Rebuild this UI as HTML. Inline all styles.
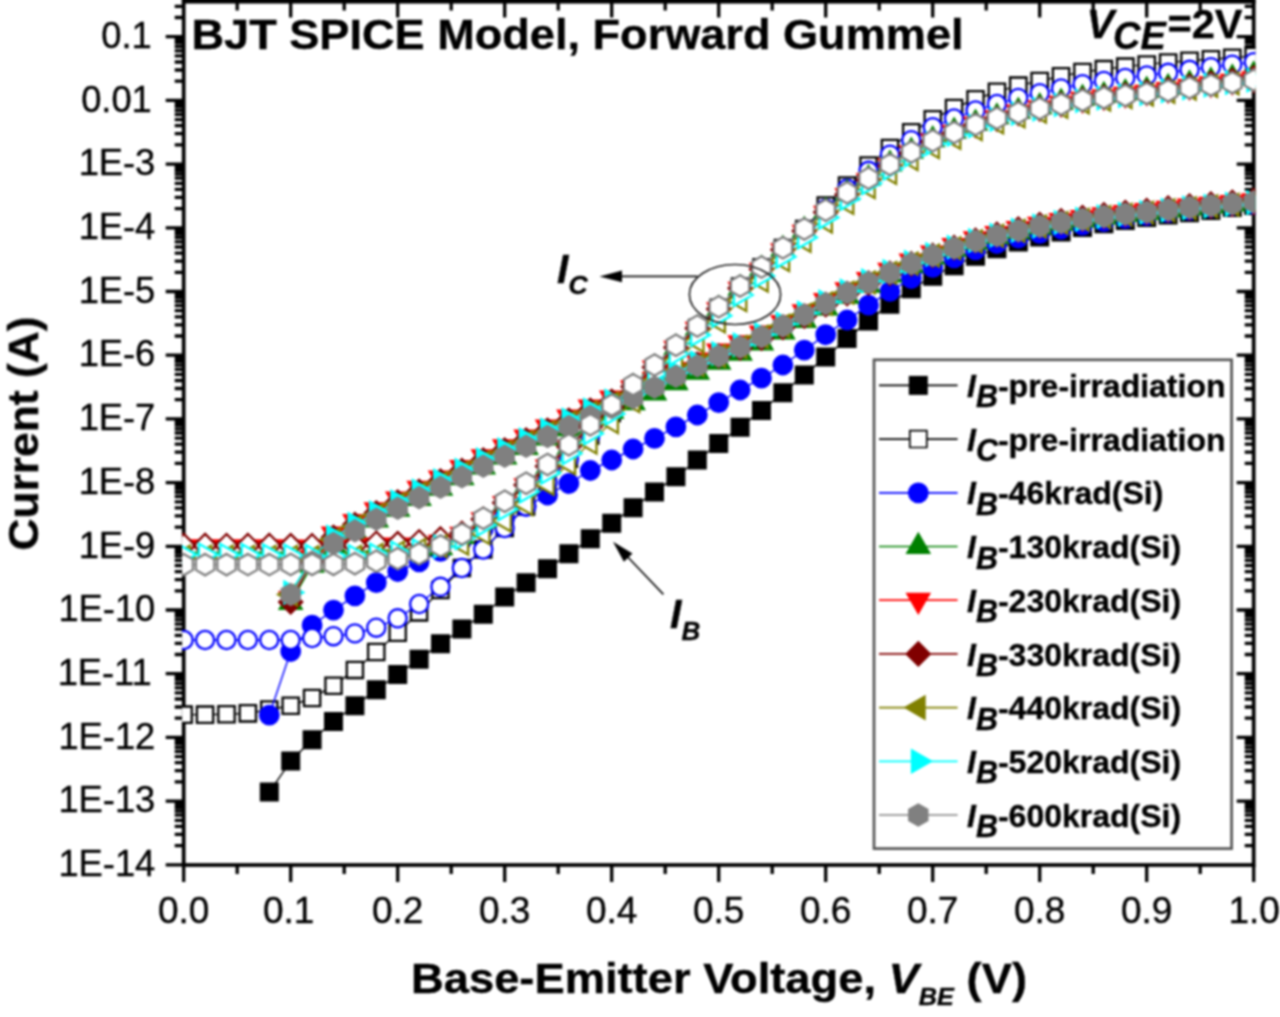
<!DOCTYPE html>
<html lang="en"><head><meta charset="utf-8"><title>BJT SPICE Model, Forward Gummel</title>
<style>html,body{margin:0;padding:0;background:#fff}body{width:1280px;height:1017px;overflow:hidden}svg{display:block}svg text{stroke:#000;stroke-width:.35px}</style>
</head><body>
<svg width="1280" height="1017" viewBox="0 0 1280 1017" font-family="'Liberation Sans', Arial, sans-serif">
<defs><filter id="b" x="-10" y="-10" width="1300" height="1037" filterUnits="userSpaceOnUse" color-interpolation-filters="sRGB"><feGaussianBlur stdDeviation="0.8"/></filter><clipPath id="c"><rect x="182.1" y="0" width="1073.4" height="866.5"/></clipPath></defs>
<rect width="1280" height="1017" fill="#fff"/>
<g filter="url(#b)">
<rect x="183.7" y="1.5" width="1070" height="863.5" fill="none" stroke="#000" stroke-width="3.7"/>
<rect x="181.8" y="-8" width="1073.7" height="11.3" fill="#000"/>
<path d="M183.7 865v17M237.2 865v9M237.2 1.5v9M290.7 865v17M290.7 1.5v16M344.2 865v9M344.2 1.5v9M397.7 865v17M397.7 1.5v16M451.2 865v9M451.2 1.5v9M504.7 865v17M504.7 1.5v16M558.2 865v9M558.2 1.5v9M611.7 865v17M611.7 1.5v16M665.2 865v9M665.2 1.5v9M718.7 865v17M718.7 1.5v16M772.2 865v9M772.2 1.5v9M825.7 865v17M825.7 1.5v16M879.2 865v9M879.2 1.5v9M932.7 865v17M932.7 1.5v16M986.2 865v9M986.2 1.5v9M1039.7 865v17M1039.7 1.5v16M1093.2 865v9M1093.2 1.5v9M1146.7 865v17M1146.7 1.5v16M1200.2 865v9M1200.2 1.5v9M1253.7 865v17M183.7 864.8h-18M183.7 845.6h-9M1253.7 845.6h-9M183.7 834.4h-9M1253.7 834.4h-9M183.7 826.4h-9M1253.7 826.4h-9M183.7 820.3h-9M1253.7 820.3h-9M183.7 815.2h-9M1253.7 815.2h-9M183.7 811h-9M1253.7 811h-9M183.7 807.3h-9M1253.7 807.3h-9M183.7 804h-9M1253.7 804h-9M183.7 801.1h-18M1253.7 801.1h-17M183.7 781.9h-9M1253.7 781.9h-9M183.7 770.7h-9M1253.7 770.7h-9M183.7 762.7h-9M1253.7 762.7h-9M183.7 756.6h-9M1253.7 756.6h-9M183.7 751.5h-9M1253.7 751.5h-9M183.7 747.3h-9M1253.7 747.3h-9M183.7 743.6h-9M1253.7 743.6h-9M183.7 740.3h-9M1253.7 740.3h-9M183.7 737.4h-18M1253.7 737.4h-17M183.7 718.2h-9M1253.7 718.2h-9M183.7 707h-9M1253.7 707h-9M183.7 699h-9M1253.7 699h-9M183.7 692.9h-9M1253.7 692.9h-9M183.7 687.8h-9M1253.7 687.8h-9M183.7 683.6h-9M1253.7 683.6h-9M183.7 679.9h-9M1253.7 679.9h-9M183.7 676.6h-9M1253.7 676.6h-9M183.7 673.7h-18M1253.7 673.7h-17M183.7 654.5h-9M1253.7 654.5h-9M183.7 643.3h-9M1253.7 643.3h-9M183.7 635.3h-9M1253.7 635.3h-9M183.7 629.2h-9M1253.7 629.2h-9M183.7 624.1h-9M1253.7 624.1h-9M183.7 619.9h-9M1253.7 619.9h-9M183.7 616.2h-9M1253.7 616.2h-9M183.7 612.9h-9M1253.7 612.9h-9M183.7 610h-18M1253.7 610h-17M183.7 590.8h-9M1253.7 590.8h-9M183.7 579.6h-9M1253.7 579.6h-9M183.7 571.6h-9M1253.7 571.6h-9M183.7 565.5h-9M1253.7 565.5h-9M183.7 560.4h-9M1253.7 560.4h-9M183.7 556.2h-9M1253.7 556.2h-9M183.7 552.5h-9M1253.7 552.5h-9M183.7 549.2h-9M1253.7 549.2h-9M183.7 546.3h-18M1253.7 546.3h-17M183.7 527.1h-9M1253.7 527.1h-9M183.7 515.9h-9M1253.7 515.9h-9M183.7 507.9h-9M1253.7 507.9h-9M183.7 501.8h-9M1253.7 501.8h-9M183.7 496.7h-9M1253.7 496.7h-9M183.7 492.5h-9M1253.7 492.5h-9M183.7 488.8h-9M1253.7 488.8h-9M183.7 485.5h-9M1253.7 485.5h-9M183.7 482.6h-18M1253.7 482.6h-17M183.7 463.4h-9M1253.7 463.4h-9M183.7 452.2h-9M1253.7 452.2h-9M183.7 444.2h-9M1253.7 444.2h-9M183.7 438.1h-9M1253.7 438.1h-9M183.7 433h-9M1253.7 433h-9M183.7 428.8h-9M1253.7 428.8h-9M183.7 425.1h-9M1253.7 425.1h-9M183.7 421.8h-9M1253.7 421.8h-9M183.7 418.9h-18M1253.7 418.9h-17M183.7 399.7h-9M1253.7 399.7h-9M183.7 388.5h-9M1253.7 388.5h-9M183.7 380.5h-9M1253.7 380.5h-9M183.7 374.4h-9M1253.7 374.4h-9M183.7 369.3h-9M1253.7 369.3h-9M183.7 365.1h-9M1253.7 365.1h-9M183.7 361.4h-9M1253.7 361.4h-9M183.7 358.1h-9M1253.7 358.1h-9M183.7 355.2h-18M1253.7 355.2h-17M183.7 336h-9M1253.7 336h-9M183.7 324.8h-9M1253.7 324.8h-9M183.7 316.8h-9M1253.7 316.8h-9M183.7 310.7h-9M1253.7 310.7h-9M183.7 305.6h-9M1253.7 305.6h-9M183.7 301.4h-9M1253.7 301.4h-9M183.7 297.7h-9M1253.7 297.7h-9M183.7 294.4h-9M1253.7 294.4h-9M183.7 291.5h-18M1253.7 291.5h-17M183.7 272.3h-9M1253.7 272.3h-9M183.7 261.1h-9M1253.7 261.1h-9M183.7 253.1h-9M1253.7 253.1h-9M183.7 247h-9M1253.7 247h-9M183.7 241.9h-9M1253.7 241.9h-9M183.7 237.7h-9M1253.7 237.7h-9M183.7 234h-9M1253.7 234h-9M183.7 230.7h-9M1253.7 230.7h-9M183.7 227.8h-18M1253.7 227.8h-17M183.7 208.6h-9M1253.7 208.6h-9M183.7 197.4h-9M1253.7 197.4h-9M183.7 189.4h-9M1253.7 189.4h-9M183.7 183.3h-9M1253.7 183.3h-9M183.7 178.2h-9M1253.7 178.2h-9M183.7 174h-9M1253.7 174h-9M183.7 170.3h-9M1253.7 170.3h-9M183.7 167h-9M1253.7 167h-9M183.7 164.1h-18M1253.7 164.1h-17M183.7 144.9h-9M1253.7 144.9h-9M183.7 133.7h-9M1253.7 133.7h-9M183.7 125.7h-9M1253.7 125.7h-9M183.7 119.6h-9M1253.7 119.6h-9M183.7 114.5h-9M1253.7 114.5h-9M183.7 110.3h-9M1253.7 110.3h-9M183.7 106.6h-9M1253.7 106.6h-9M183.7 103.3h-9M1253.7 103.3h-9M183.7 100.4h-18M1253.7 100.4h-17M183.7 81.2h-9M1253.7 81.2h-9M183.7 70h-9M1253.7 70h-9M183.7 62h-9M1253.7 62h-9M183.7 55.9h-9M1253.7 55.9h-9M183.7 50.8h-9M1253.7 50.8h-9M183.7 46.6h-9M1253.7 46.6h-9M183.7 42.9h-9M1253.7 42.9h-9M183.7 39.6h-9M1253.7 39.6h-9M183.7 36.7h-18M1253.7 36.7h-17M183.7 17.5h-9M1253.7 17.5h-9M183.7 6.3h-9M1253.7 6.3h-9" stroke="#000" stroke-width="3.3" fill="none"/>
<g font-size="37" fill="#000" text-anchor="middle">
<text x="183.7" y="923">0.0</text>
<text x="288.7" y="923">0.1</text>
<text x="397.7" y="923">0.2</text>
<text x="504.7" y="923">0.3</text>
<text x="611.7" y="923">0.4</text>
<text x="718.7" y="923">0.5</text>
<text x="825.7" y="923">0.6</text>
<text x="932.7" y="923">0.7</text>
<text x="1039.7" y="923">0.8</text>
<text x="1146.7" y="923">0.9</text>
<text x="1254.2" y="923">1.0</text>
</g>
<g font-size="36.3" fill="#000" text-anchor="end">
<text x="151.8" y="47.9">0.1</text>
<text x="151.8" y="111.6">0.01</text>
<text x="155.3" y="175.3">1E-3</text>
<text x="155.3" y="239">1E-4</text>
<text x="155.3" y="302.7">1E-5</text>
<text x="155.3" y="366.4">1E-6</text>
<text x="155.3" y="430.1">1E-7</text>
<text x="155.3" y="493.8">1E-8</text>
<text x="155.3" y="557.5">1E-9</text>
<text x="155.3" y="621.2">1E-10</text>
<text x="151.8" y="684.9">1E-11</text>
<text x="155.3" y="748.6">1E-12</text>
<text x="155.3" y="812.3">1E-13</text>
<text x="155.3" y="876">1E-14</text>
</g>
<g clip-path="url(#c)" stroke-linejoin="miter">
<path d="M269.3 792.1L290.7 761.1L312.1 739.7L333.5 721.5L354.9 705.7L376.3 689.8L397.7 674.5L419.1 659.2L440.5 643.8L461.9 629L483.3 614.2L504.7 597L526.1 582.8L547.5 568.8L568.9 553.8L590.3 538.8L611.7 523.3L633.1 507.7L654.5 492.1L675.9 476.7L697.3 460.1L718.7 443.5L740.1 427.2L761.5 410.6L782.9 392.8L804.3 374.9L825.7 357L847.1 338.6L868.5 320.9L889.9 304.2L911.3 288.8L932.7 276.3L954.1 265.7L975.5 256.3L996.9 248.8L1018.3 242L1039.7 237L1061.1 232L1082.5 227.5L1103.9 223.8L1125.3 220.5L1146.7 217.6L1168.1 215L1189.5 212.8L1210.9 210.5L1232.3 207.6L1253.7 205.5" fill="none" stroke="#000000" stroke-width="1.45"/>
<path d="M259.8 782.6L278.8 782.6L278.8 801.6L259.8 801.6zM281.2 751.6L300.2 751.6L300.2 770.6L281.2 770.6zM302.6 730.2L321.6 730.2L321.6 749.2L302.6 749.2zM324 712L343 712L343 731L324 731zM345.4 696.2L364.4 696.2L364.4 715.2L345.4 715.2zM366.8 680.3L385.8 680.3L385.8 699.3L366.8 699.3zM388.2 665L407.2 665L407.2 684L388.2 684zM409.6 649.7L428.6 649.7L428.6 668.7L409.6 668.7zM431 634.3L450 634.3L450 653.3L431 653.3zM452.4 619.5L471.4 619.5L471.4 638.5L452.4 638.5zM473.8 604.7L492.8 604.7L492.8 623.7L473.8 623.7zM495.2 587.5L514.2 587.5L514.2 606.5L495.2 606.5zM516.6 573.3L535.6 573.3L535.6 592.3L516.6 592.3zM538 559.3L557 559.3L557 578.3L538 578.3zM559.4 544.3L578.4 544.3L578.4 563.3L559.4 563.3zM580.8 529.3L599.8 529.3L599.8 548.3L580.8 548.3zM602.2 513.8L621.2 513.8L621.2 532.8L602.2 532.8zM623.6 498.2L642.6 498.2L642.6 517.2L623.6 517.2zM645 482.6L664 482.6L664 501.6L645 501.6zM666.4 467.2L685.4 467.2L685.4 486.2L666.4 486.2zM687.8 450.6L706.8 450.6L706.8 469.6L687.8 469.6zM709.2 434L728.2 434L728.2 453L709.2 453zM730.6 417.7L749.6 417.7L749.6 436.7L730.6 436.7zM752 401.1L771 401.1L771 420.1L752 420.1zM773.4 383.3L792.4 383.3L792.4 402.3L773.4 402.3zM794.8 365.4L813.8 365.4L813.8 384.4L794.8 384.4zM816.2 347.5L835.2 347.5L835.2 366.5L816.2 366.5zM837.6 329.1L856.6 329.1L856.6 348.1L837.6 348.1zM859 311.4L878 311.4L878 330.4L859 330.4zM880.4 294.7L899.4 294.7L899.4 313.7L880.4 313.7zM901.8 279.3L920.8 279.3L920.8 298.3L901.8 298.3zM923.2 266.8L942.2 266.8L942.2 285.8L923.2 285.8zM944.6 256.2L963.6 256.2L963.6 275.2L944.6 275.2zM966 246.8L985 246.8L985 265.8L966 265.8zM987.4 239.3L1006.4 239.3L1006.4 258.3L987.4 258.3zM1008.8 232.5L1027.8 232.5L1027.8 251.5L1008.8 251.5zM1030.2 227.5L1049.2 227.5L1049.2 246.5L1030.2 246.5zM1051.6 222.5L1070.6 222.5L1070.6 241.5L1051.6 241.5zM1073 218L1092 218L1092 237L1073 237zM1094.4 214.3L1113.4 214.3L1113.4 233.3L1094.4 233.3zM1115.8 211L1134.8 211L1134.8 230L1115.8 230zM1137.2 208.1L1156.2 208.1L1156.2 227.1L1137.2 227.1zM1158.6 205.5L1177.6 205.5L1177.6 224.5L1158.6 224.5zM1180 203.3L1199 203.3L1199 222.3L1180 222.3zM1201.4 201L1220.4 201L1220.4 220L1201.4 220zM1222.8 198.1L1241.8 198.1L1241.8 217.1L1222.8 217.1zM1244.2 196L1263.2 196L1263.2 215L1244.2 215z" fill="#000000"/>
<path d="M183.7 714.6L205.1 714.6L226.5 714.3L247.9 713.4L269.3 709.5L290.7 705.7L312.1 698L333.5 685.7L354.9 669.9L376.3 652L397.7 632.8L419.1 612.4L440.5 590L461.9 567.9L483.3 549.5L504.7 528L526.1 506.4L547.5 482.5L568.9 458.8L590.3 435.5L611.7 413L633.1 390.6L654.5 369.3L675.9 348.2L697.3 327.9L718.7 307.7L740.1 286.5L761.5 267.3L782.9 247.9L804.3 229L825.7 205.5L847.1 185.5L868.5 165.5L889.9 148L911.3 132.4L932.7 119.3L954.1 108L975.5 99.3L996.9 91.8L1018.3 85.6L1039.7 81L1061.1 76.3L1082.5 72L1103.9 69.2L1125.3 66.6L1146.7 64.4L1168.1 62.4L1189.5 60.7L1210.9 59.3L1232.3 57.7L1253.7 56.1" fill="none" stroke="#000000" stroke-width="1.45"/>
<path d="M175.5 706.5L191.8 706.5L191.8 722.8L175.5 722.8zM196.9 706.5L213.2 706.5L213.2 722.8L196.9 722.8zM218.3 706.1L234.7 706.1L234.7 722.4L218.3 722.4zM239.7 705.2L256 705.2L256 721.5L239.7 721.5zM261.2 701.4L277.4 701.4L277.4 717.6L261.2 717.6zM282.6 697.6L298.8 697.6L298.8 713.9L282.6 713.9zM304 689.9L320.2 689.9L320.2 706.1L304 706.1zM325.4 677.6L341.6 677.6L341.6 693.9L325.4 693.9zM346.8 661.8L363 661.8L363 678L346.8 678zM368.1 643.9L384.4 643.9L384.4 660.1L368.1 660.1zM389.6 624.6L405.8 624.6L405.8 640.9L389.6 640.9zM411 604.2L427.2 604.2L427.2 620.5L411 620.5zM432.4 581.9L448.6 581.9L448.6 598.1L432.4 598.1zM453.8 559.8L470 559.8L470 576L453.8 576zM475.2 541.4L491.4 541.4L491.4 557.6L475.2 557.6zM496.6 519.9L512.9 519.9L512.9 536.1L496.6 536.1zM518 498.2L534.2 498.2L534.2 514.5L518 514.5zM539.4 474.4L555.6 474.4L555.6 490.7L539.4 490.7zM560.8 450.7L577 450.7L577 466.9L560.8 466.9zM582.1 427.3L598.4 427.3L598.4 443.6L582.1 443.6zM603.6 404.9L619.9 404.9L619.9 421.1L603.6 421.1zM624.9 382.4L641.2 382.4L641.2 398.7L624.9 398.7zM646.4 361.2L662.6 361.2L662.6 377.5L646.4 377.5zM667.8 340.1L684.1 340.1L684.1 356.3L667.8 356.3zM689.1 319.8L705.4 319.8L705.4 336.1L689.1 336.1zM710.6 299.6L726.9 299.6L726.9 315.9L710.6 315.9zM731.9 278.4L748.2 278.4L748.2 294.6L731.9 294.6zM753.4 259.2L769.6 259.2L769.6 275.5L753.4 275.5zM774.8 239.8L791.1 239.8L791.1 256.1L774.8 256.1zM796.1 220.8L812.4 220.8L812.4 237.2L796.1 237.2zM817.6 197.3L833.9 197.3L833.9 213.7L817.6 213.7zM838.9 177.3L855.2 177.3L855.2 193.7L838.9 193.7zM860.4 157.3L876.6 157.3L876.6 173.7L860.4 173.7zM881.8 139.8L898.1 139.8L898.1 156.2L881.8 156.2zM903.1 124.2L919.4 124.2L919.4 140.6L903.1 140.6zM924.6 111.2L940.9 111.2L940.9 127.5L924.6 127.5zM945.9 99.8L962.2 99.8L962.2 116.2L945.9 116.2zM967.4 91.1L983.6 91.1L983.6 107.5L967.4 107.5zM988.8 83.6L1005.1 83.6L1005.1 100L988.8 100zM1010.1 77.5L1026.5 77.5L1026.5 93.8L1010.1 93.8zM1031.5 72.8L1047.9 72.8L1047.9 89.2L1031.5 89.2zM1052.9 68.1L1069.2 68.1L1069.2 84.4L1052.9 84.4zM1074.3 63.9L1090.7 63.9L1090.7 80.2L1074.3 80.2zM1095.7 61L1112 61L1112 77.3L1095.7 77.3zM1117.1 58.5L1133.5 58.5L1133.5 74.8L1117.1 74.8zM1138.5 56.3L1154.9 56.3L1154.9 72.6L1138.5 72.6zM1160 54.3L1176.3 54.3L1176.3 70.6L1160 70.6zM1181.3 52.6L1197.7 52.6L1197.7 68.9L1181.3 68.9zM1202.8 51.1L1219.1 51.1L1219.1 67.5L1202.8 67.5zM1224.1 49.6L1240.5 49.6L1240.5 65.9L1224.1 65.9zM1245.5 47.9L1261.9 47.9L1261.9 64.2L1245.5 64.2z" fill="#fff" stroke="#000000" stroke-width="2.3"/>
<path d="M269.3 715.1L290.7 651.5L312.1 625.2L333.5 610.1L354.9 595.8L376.3 582.7L397.7 571.5L419.1 561.8L440.5 551.3L461.9 540.5L483.3 529.3L504.7 517.9L526.1 506.4L547.5 495L568.9 483.5L590.3 470.5L611.7 460L633.1 449L654.5 438.4L675.9 426.9L697.3 415L718.7 402.6L740.1 390L761.5 378.2L782.9 365L804.3 350.1L825.7 334.7L847.1 320L868.5 305.2L889.9 291.4L911.3 278.5L932.7 267.3L954.1 257.9L975.5 249.8L996.9 243.5L1018.3 238L1039.7 233.3L1061.1 229L1082.5 225.1L1103.9 221.5L1125.3 218.4L1146.7 215.5L1168.1 212.6L1189.5 210L1210.9 207.7L1232.3 205.7L1253.7 204" fill="none" stroke="#0000ff" stroke-width="1.45"/>
<path d="M258.9 715.1a10.4 10.4 0 1 0 20.8 0a10.4 10.4 0 1 0 -20.8 0zM280.3 651.5a10.4 10.4 0 1 0 20.8 0a10.4 10.4 0 1 0 -20.8 0zM301.7 625.2a10.4 10.4 0 1 0 20.8 0a10.4 10.4 0 1 0 -20.8 0zM323.1 610.1a10.4 10.4 0 1 0 20.8 0a10.4 10.4 0 1 0 -20.8 0zM344.5 595.8a10.4 10.4 0 1 0 20.8 0a10.4 10.4 0 1 0 -20.8 0zM365.9 582.7a10.4 10.4 0 1 0 20.8 0a10.4 10.4 0 1 0 -20.8 0zM387.3 571.5a10.4 10.4 0 1 0 20.8 0a10.4 10.4 0 1 0 -20.8 0zM408.7 561.8a10.4 10.4 0 1 0 20.8 0a10.4 10.4 0 1 0 -20.8 0zM430.1 551.3a10.4 10.4 0 1 0 20.8 0a10.4 10.4 0 1 0 -20.8 0zM451.5 540.5a10.4 10.4 0 1 0 20.8 0a10.4 10.4 0 1 0 -20.8 0zM472.9 529.3a10.4 10.4 0 1 0 20.8 0a10.4 10.4 0 1 0 -20.8 0zM494.3 517.9a10.4 10.4 0 1 0 20.8 0a10.4 10.4 0 1 0 -20.8 0zM515.7 506.4a10.4 10.4 0 1 0 20.8 0a10.4 10.4 0 1 0 -20.8 0zM537.1 495a10.4 10.4 0 1 0 20.8 0a10.4 10.4 0 1 0 -20.8 0zM558.5 483.5a10.4 10.4 0 1 0 20.8 0a10.4 10.4 0 1 0 -20.8 0zM579.9 470.5a10.4 10.4 0 1 0 20.8 0a10.4 10.4 0 1 0 -20.8 0zM601.3 460a10.4 10.4 0 1 0 20.8 0a10.4 10.4 0 1 0 -20.8 0zM622.7 449a10.4 10.4 0 1 0 20.8 0a10.4 10.4 0 1 0 -20.8 0zM644.1 438.4a10.4 10.4 0 1 0 20.8 0a10.4 10.4 0 1 0 -20.8 0zM665.5 426.9a10.4 10.4 0 1 0 20.8 0a10.4 10.4 0 1 0 -20.8 0zM686.9 415a10.4 10.4 0 1 0 20.8 0a10.4 10.4 0 1 0 -20.8 0zM708.3 402.6a10.4 10.4 0 1 0 20.8 0a10.4 10.4 0 1 0 -20.8 0zM729.7 390a10.4 10.4 0 1 0 20.8 0a10.4 10.4 0 1 0 -20.8 0zM751.1 378.2a10.4 10.4 0 1 0 20.8 0a10.4 10.4 0 1 0 -20.8 0zM772.5 365a10.4 10.4 0 1 0 20.8 0a10.4 10.4 0 1 0 -20.8 0zM793.9 350.1a10.4 10.4 0 1 0 20.8 0a10.4 10.4 0 1 0 -20.8 0zM815.3 334.7a10.4 10.4 0 1 0 20.8 0a10.4 10.4 0 1 0 -20.8 0zM836.7 320a10.4 10.4 0 1 0 20.8 0a10.4 10.4 0 1 0 -20.8 0zM858.1 305.2a10.4 10.4 0 1 0 20.8 0a10.4 10.4 0 1 0 -20.8 0zM879.5 291.4a10.4 10.4 0 1 0 20.8 0a10.4 10.4 0 1 0 -20.8 0zM900.9 278.5a10.4 10.4 0 1 0 20.8 0a10.4 10.4 0 1 0 -20.8 0zM922.3 267.3a10.4 10.4 0 1 0 20.8 0a10.4 10.4 0 1 0 -20.8 0zM943.7 257.9a10.4 10.4 0 1 0 20.8 0a10.4 10.4 0 1 0 -20.8 0zM965.1 249.8a10.4 10.4 0 1 0 20.8 0a10.4 10.4 0 1 0 -20.8 0zM986.5 243.5a10.4 10.4 0 1 0 20.8 0a10.4 10.4 0 1 0 -20.8 0zM1007.9 238a10.4 10.4 0 1 0 20.8 0a10.4 10.4 0 1 0 -20.8 0zM1029.3 233.3a10.4 10.4 0 1 0 20.8 0a10.4 10.4 0 1 0 -20.8 0zM1050.7 229a10.4 10.4 0 1 0 20.8 0a10.4 10.4 0 1 0 -20.8 0zM1072.1 225.1a10.4 10.4 0 1 0 20.8 0a10.4 10.4 0 1 0 -20.8 0zM1093.5 221.5a10.4 10.4 0 1 0 20.8 0a10.4 10.4 0 1 0 -20.8 0zM1114.9 218.4a10.4 10.4 0 1 0 20.8 0a10.4 10.4 0 1 0 -20.8 0zM1136.3 215.5a10.4 10.4 0 1 0 20.8 0a10.4 10.4 0 1 0 -20.8 0zM1157.7 212.6a10.4 10.4 0 1 0 20.8 0a10.4 10.4 0 1 0 -20.8 0zM1179.1 210a10.4 10.4 0 1 0 20.8 0a10.4 10.4 0 1 0 -20.8 0zM1200.5 207.7a10.4 10.4 0 1 0 20.8 0a10.4 10.4 0 1 0 -20.8 0zM1221.9 205.7a10.4 10.4 0 1 0 20.8 0a10.4 10.4 0 1 0 -20.8 0zM1243.3 204a10.4 10.4 0 1 0 20.8 0a10.4 10.4 0 1 0 -20.8 0z" fill="#0000ff"/>
<path d="M183.7 640L205.1 640L226.5 640L247.9 640L269.3 640L290.7 640L312.1 638L333.5 636.2L354.9 633.4L376.3 627.7L397.7 618.3L419.1 604L440.5 586.8L461.9 568L483.3 549.5L504.7 528L526.1 506.4L547.5 482.5L568.9 458.8L590.3 435.5L611.7 413L633.1 390.6L654.5 369.3L675.9 348.2L697.3 327.9L718.7 307.7L740.1 286.5L761.5 267.3L782.9 247.9L804.3 229L825.7 208.8L847.1 188.7L868.5 170.8L889.9 154.6L911.3 140.2L932.7 127.1L954.1 118.5L975.5 110.4L996.9 104L1018.3 97.9L1039.7 93.1L1061.1 88.4L1082.5 84.1L1103.9 80.9L1125.3 77.9L1146.7 75.4L1168.1 72.8L1189.5 69.8L1210.9 67.1L1232.3 64.6L1253.7 62.1" fill="none" stroke="#0000ff" stroke-width="1.45"/>
<path d="M174.6 640a9 9 0 1 0 18.1 0a9 9 0 1 0 -18.1 0zM196 640a9 9 0 1 0 18.1 0a9 9 0 1 0 -18.1 0zM217.4 640a9 9 0 1 0 18.1 0a9 9 0 1 0 -18.1 0zM238.8 640a9 9 0 1 0 18.1 0a9 9 0 1 0 -18.1 0zM260.2 640a9 9 0 1 0 18.1 0a9 9 0 1 0 -18.1 0zM281.6 640a9 9 0 1 0 18.1 0a9 9 0 1 0 -18.1 0zM303.1 638a9 9 0 1 0 18.1 0a9 9 0 1 0 -18.1 0zM324.4 636.2a9 9 0 1 0 18.1 0a9 9 0 1 0 -18.1 0zM345.8 633.4a9 9 0 1 0 18.1 0a9 9 0 1 0 -18.1 0zM367.2 627.7a9 9 0 1 0 18.1 0a9 9 0 1 0 -18.1 0zM388.6 618.3a9 9 0 1 0 18.1 0a9 9 0 1 0 -18.1 0zM410.1 604a9 9 0 1 0 18.1 0a9 9 0 1 0 -18.1 0zM431.4 586.8a9 9 0 1 0 18.1 0a9 9 0 1 0 -18.1 0zM452.8 568a9 9 0 1 0 18.1 0a9 9 0 1 0 -18.1 0zM474.2 549.5a9 9 0 1 0 18.1 0a9 9 0 1 0 -18.1 0zM495.6 528a9 9 0 1 0 18.1 0a9 9 0 1 0 -18.1 0zM517.1 506.4a9 9 0 1 0 18.1 0a9 9 0 1 0 -18.1 0zM538.5 482.5a9 9 0 1 0 18.1 0a9 9 0 1 0 -18.1 0zM559.9 458.8a9 9 0 1 0 18.1 0a9 9 0 1 0 -18.1 0zM581.2 435.5a9 9 0 1 0 18.1 0a9 9 0 1 0 -18.1 0zM602.7 413a9 9 0 1 0 18.1 0a9 9 0 1 0 -18.1 0zM624 390.6a9 9 0 1 0 18.1 0a9 9 0 1 0 -18.1 0zM645.5 369.3a9 9 0 1 0 18.1 0a9 9 0 1 0 -18.1 0zM666.9 348.2a9 9 0 1 0 18.1 0a9 9 0 1 0 -18.1 0zM688.2 327.9a9 9 0 1 0 18.1 0a9 9 0 1 0 -18.1 0zM709.7 307.7a9 9 0 1 0 18.1 0a9 9 0 1 0 -18.1 0zM731 286.5a9 9 0 1 0 18.1 0a9 9 0 1 0 -18.1 0zM752.5 267.3a9 9 0 1 0 18.1 0a9 9 0 1 0 -18.1 0zM773.9 247.9a9 9 0 1 0 18.1 0a9 9 0 1 0 -18.1 0zM795.2 229a9 9 0 1 0 18.1 0a9 9 0 1 0 -18.1 0zM816.7 208.8a9 9 0 1 0 18.1 0a9 9 0 1 0 -18.1 0zM838 188.7a9 9 0 1 0 18.1 0a9 9 0 1 0 -18.1 0zM859.5 170.8a9 9 0 1 0 18.1 0a9 9 0 1 0 -18.1 0zM880.9 154.6a9 9 0 1 0 18.1 0a9 9 0 1 0 -18.1 0zM902.2 140.2a9 9 0 1 0 18.1 0a9 9 0 1 0 -18.1 0zM923.7 127.1a9 9 0 1 0 18.1 0a9 9 0 1 0 -18.1 0zM945 118.5a9 9 0 1 0 18.1 0a9 9 0 1 0 -18.1 0zM966.5 110.4a9 9 0 1 0 18.1 0a9 9 0 1 0 -18.1 0zM987.9 104a9 9 0 1 0 18.1 0a9 9 0 1 0 -18.1 0zM1009.2 97.9a9 9 0 1 0 18.1 0a9 9 0 1 0 -18.1 0zM1030.7 93.1a9 9 0 1 0 18.1 0a9 9 0 1 0 -18.1 0zM1052 88.4a9 9 0 1 0 18.1 0a9 9 0 1 0 -18.1 0zM1073.5 84.1a9 9 0 1 0 18.1 0a9 9 0 1 0 -18.1 0zM1094.8 80.9a9 9 0 1 0 18.1 0a9 9 0 1 0 -18.1 0zM1116.2 77.9a9 9 0 1 0 18.1 0a9 9 0 1 0 -18.1 0zM1137.7 75.4a9 9 0 1 0 18.1 0a9 9 0 1 0 -18.1 0zM1159.1 72.8a9 9 0 1 0 18.1 0a9 9 0 1 0 -18.1 0zM1180.5 69.8a9 9 0 1 0 18.1 0a9 9 0 1 0 -18.1 0zM1201.9 67.1a9 9 0 1 0 18.1 0a9 9 0 1 0 -18.1 0zM1223.2 64.6a9 9 0 1 0 18.1 0a9 9 0 1 0 -18.1 0zM1244.7 62.1a9 9 0 1 0 18.1 0a9 9 0 1 0 -18.1 0z" fill="#fff" stroke="#0000ff" stroke-width="2.3"/>
<path d="M290.7 602.5L312.1 565.5L333.5 544.5L354.9 531.8L376.3 520.2L397.7 509.3L419.1 498.6L440.5 488.3L461.9 477.8L483.3 467.2L504.7 457.2L526.1 447.5L547.5 438.2L568.9 428.9L590.3 419.7L611.7 411.5L633.1 402.8L654.5 393.2L675.9 382.8L697.3 372.3L718.7 362.5L740.1 353.4L761.5 343L782.9 332.1L804.3 320.6L825.7 308.1L847.1 296.3L868.5 285.4L889.9 275.3L911.3 265.4L932.7 257L954.1 249.3L975.5 242.3L996.9 236.6L1018.3 231.6L1039.7 227.1L1061.1 223.3L1082.5 220.1L1103.9 217.2L1125.3 214.7L1146.7 212.7L1168.1 210.2L1189.5 208L1210.9 206.1L1232.3 204.2L1253.7 202.4" fill="none" stroke="#008000" stroke-width="1.45"/>
<path d="M290.7 587.7L303.5 609.9L277.9 609.9zM312.1 550.7L324.9 572.8L299.3 572.8zM333.5 529.7L346.3 551.9L320.7 551.9zM354.9 517L367.7 539.2L342.1 539.2zM376.3 505.4L389.1 527.6L363.5 527.6zM397.7 494.5L410.5 516.7L384.9 516.7zM419.1 483.8L431.9 506L406.3 506zM440.5 473.5L453.3 495.7L427.7 495.7zM461.9 463L474.7 485.2L449.1 485.2zM483.3 452.4L496.1 474.6L470.5 474.6zM504.7 442.4L517.5 464.6L491.9 464.6zM526.1 432.7L538.9 454.9L513.3 454.9zM547.5 423.4L560.3 445.6L534.7 445.6zM568.9 414.2L581.7 436.3L556.1 436.3zM590.3 405L603.1 427.1L577.5 427.1zM611.7 396.7L624.5 418.9L598.9 418.9zM633.1 388L645.9 410.2L620.3 410.2zM654.5 378.4L667.3 400.6L641.7 400.6zM675.9 368L688.7 390.2L663.1 390.2zM697.3 357.5L710.1 379.7L684.5 379.7zM718.7 347.7L731.5 369.8L705.9 369.8zM740.1 338.6L752.9 360.8L727.3 360.8zM761.5 328.2L774.3 350.4L748.7 350.4zM782.9 317.3L795.7 339.5L770.1 339.5zM804.3 305.8L817.1 328L791.5 328zM825.7 293.3L838.5 315.5L812.9 315.5zM847.1 281.5L859.9 303.7L834.3 303.7zM868.5 270.6L881.3 292.7L855.7 292.7zM889.9 260.5L902.7 282.6L877.1 282.6zM911.3 250.6L924.1 272.8L898.5 272.8zM932.7 242.2L945.5 264.4L919.9 264.4zM954.1 234.6L966.9 256.7L941.3 256.7zM975.5 227.6L988.3 249.7L962.7 249.7zM996.9 221.9L1009.7 244L984.1 244zM1018.3 216.8L1031.1 239L1005.5 239zM1039.7 212.3L1052.5 234.5L1026.9 234.5zM1061.1 208.6L1073.9 230.7L1048.3 230.7zM1082.5 205.3L1095.3 227.5L1069.7 227.5zM1103.9 202.4L1116.7 224.6L1091.1 224.6zM1125.3 200L1138.1 222.1L1112.5 222.1zM1146.7 197.9L1159.5 220.1L1133.9 220.1zM1168.1 195.5L1180.9 217.6L1155.3 217.6zM1189.5 193.2L1202.3 215.4L1176.7 215.4zM1210.9 191.3L1223.7 213.4L1198.1 213.4zM1232.3 189.4L1245.1 211.6L1219.5 211.6zM1253.7 187.6L1266.5 209.8L1240.9 209.8z" fill="#008000"/>
<path d="M183.7 552.1L205.1 552.1L226.5 552.1L247.9 552.2L269.3 552.3L290.7 552.4L312.1 552.6L333.5 552.7L354.9 552.2L376.3 550.3L397.7 549.6L419.1 548.8L440.5 548L461.9 536.6L483.3 521.2L504.7 504.3L526.1 486.3L547.5 467.5L568.9 447.7L590.3 427.7L611.7 407.8L633.1 387.4L654.5 367.7L675.9 347.8L697.3 328.5L718.7 309.1L740.1 288.2L761.5 269L782.9 249.4L804.3 230.3L825.7 211.2L847.1 193.3L868.5 178.4L889.9 164.2L911.3 151.3L932.7 139.8L954.1 131.3L975.5 123.2L996.9 116.9L1018.3 111.2L1039.7 106.9L1061.1 102.4L1082.5 98.2L1103.9 95.4L1125.3 92.8L1146.7 90.4L1168.1 87.5L1189.5 84.1L1210.9 81L1232.3 78L1253.7 75.1" fill="none" stroke="#008000" stroke-width="1.45"/>
<path d="M183.7 539.6L194.5 558.3L172.9 558.3zM205.1 539.6L215.9 558.4L194.3 558.4zM226.5 539.7L237.3 558.4L215.7 558.4zM247.9 539.7L258.7 558.4L237.1 558.4zM269.3 539.8L280.1 558.5L258.5 558.5zM290.7 539.9L301.5 558.6L279.9 558.6zM312.1 540.1L322.9 558.8L301.3 558.8zM333.5 540.3L344.3 559L322.7 559zM354.9 539.8L365.7 558.5L344.1 558.5zM376.3 537.8L387.1 556.5L365.5 556.5zM397.7 537.1L408.5 555.8L386.9 555.8zM419.1 536.3L429.9 555L408.3 555zM440.5 535.5L451.3 554.2L429.7 554.2zM461.9 524.1L472.7 542.8L451.1 542.8zM483.3 508.7L494.1 527.4L472.5 527.4zM504.7 491.8L515.5 510.5L493.9 510.5zM526.1 473.8L536.9 492.5L515.3 492.5zM547.5 455L558.3 473.7L536.7 473.7zM568.9 435.3L579.7 454L558.1 454zM590.3 415.2L601.1 433.9L579.5 433.9zM611.7 395.4L622.5 414.1L600.9 414.1zM633.1 374.9L643.9 393.6L622.3 393.6zM654.5 355.2L665.3 373.9L643.7 373.9zM675.9 335.3L686.7 354L665.1 354zM697.3 316L708.1 334.7L686.5 334.7zM718.7 296.6L729.5 315.3L707.9 315.3zM740.1 275.8L750.9 294.5L729.3 294.5zM761.5 256.5L772.3 275.2L750.7 275.2zM782.9 236.9L793.7 255.6L772.1 255.6zM804.3 217.9L815.1 236.6L793.5 236.6zM825.7 198.7L836.5 217.4L814.9 217.4zM847.1 180.8L857.9 199.6L836.3 199.6zM868.5 166L879.3 184.7L857.7 184.7zM889.9 151.7L900.7 170.4L879.1 170.4zM911.3 138.8L922.1 157.5L900.5 157.5zM932.7 127.3L943.5 146L921.9 146zM954.1 118.9L964.9 137.6L943.3 137.6zM975.5 110.8L986.3 129.5L964.7 129.5zM996.9 104.5L1007.7 123.2L986.1 123.2zM1018.3 98.8L1029.1 117.5L1007.5 117.5zM1039.7 94.4L1050.5 113.1L1028.9 113.1zM1061.1 89.9L1071.9 108.6L1050.3 108.6zM1082.5 85.8L1093.3 104.5L1071.7 104.5zM1103.9 83L1114.7 101.7L1093.1 101.7zM1125.3 80.3L1136.1 99.1L1114.5 99.1zM1146.7 77.9L1157.5 96.6L1135.9 96.6zM1168.1 75L1178.9 93.7L1157.3 93.7zM1189.5 71.6L1200.3 90.3L1178.7 90.3zM1210.9 68.5L1221.7 87.2L1200.1 87.2zM1232.3 65.6L1243.1 84.3L1221.5 84.3zM1253.7 62.6L1264.5 81.3L1242.9 81.3z" fill="#fff" stroke="#008000" stroke-width="2.3"/>
<path d="M290.7 598.5L312.1 557.3L333.5 534L354.9 521.3L376.3 509.7L397.7 498.8L419.1 488.1L440.5 477.8L461.9 467.3L483.3 456.7L504.7 446.7L526.1 436.8L547.5 427L568.9 417L590.3 407L611.7 398L633.1 388.7L654.5 379.1L675.9 369.3L697.3 359.9L718.7 351L740.1 342.6L761.5 332.9L782.9 322.4L804.3 311.7L825.7 300.4L847.1 289.7L868.5 279.4L889.9 270.1L911.3 260.8L932.7 252.8L954.1 245.5L975.5 238.7L996.9 233.3L1018.3 228.4L1039.7 224.1L1061.1 220.5L1082.5 217.4L1103.9 214.7L1125.3 212.4L1146.7 210.5L1168.1 208.1L1189.5 206L1210.9 204.2L1232.3 202.4L1253.7 200.7" fill="none" stroke="#ff0000" stroke-width="1.45"/>
<path d="M290.7 613.3L303.5 591.1L277.9 591.1zM312.1 572.1L324.9 549.9L299.3 549.9zM333.5 548.8L346.3 526.6L320.7 526.6zM354.9 536.1L367.7 513.9L342.1 513.9zM376.3 524.5L389.1 502.3L363.5 502.3zM397.7 513.6L410.5 491.4L384.9 491.4zM419.1 502.9L431.9 480.7L406.3 480.7zM440.5 492.6L453.3 470.4L427.7 470.4zM461.9 482.1L474.7 459.9L449.1 459.9zM483.3 471.5L496.1 449.3L470.5 449.3zM504.7 461.5L517.5 439.3L491.9 439.3zM526.1 451.6L538.9 429.4L513.3 429.4zM547.5 441.8L560.3 419.6L534.7 419.6zM568.9 431.8L581.7 409.6L556.1 409.6zM590.3 421.8L603.1 399.6L577.5 399.6zM611.7 412.8L624.5 390.6L598.9 390.6zM633.1 403.5L645.9 381.4L620.3 381.4zM654.5 393.9L667.3 371.8L641.7 371.8zM675.9 384.1L688.7 361.9L663.1 361.9zM697.3 374.6L710.1 352.5L684.5 352.5zM718.7 365.8L731.5 343.6L705.9 343.6zM740.1 357.4L752.9 335.3L727.3 335.3zM761.5 347.7L774.3 325.5L748.7 325.5zM782.9 337.2L795.7 315L770.1 315zM804.3 326.4L817.1 304.3L791.5 304.3zM825.7 315.1L838.5 293L812.9 293zM847.1 304.4L859.9 282.3L834.3 282.3zM868.5 294.2L881.3 272.1L855.7 272.1zM889.9 284.8L902.7 262.7L877.1 262.7zM911.3 275.6L924.1 253.4L898.5 253.4zM932.7 267.6L945.5 245.4L919.9 245.4zM954.1 260.3L966.9 238.1L941.3 238.1zM975.5 253.5L988.3 231.3L962.7 231.3zM996.9 248L1009.7 225.9L984.1 225.9zM1018.3 243.2L1031.1 221L1005.5 221zM1039.7 238.9L1052.5 216.7L1026.9 216.7zM1061.1 235.3L1073.9 213.1L1048.3 213.1zM1082.5 232.2L1095.3 210L1069.7 210zM1103.9 229.5L1116.7 207.3L1091.1 207.3zM1125.3 227.2L1138.1 205L1112.5 205zM1146.7 225.2L1159.5 203.1L1133.9 203.1zM1168.1 222.9L1180.9 200.8L1155.3 200.8zM1189.5 220.8L1202.3 198.6L1176.7 198.6zM1210.9 219L1223.7 196.8L1198.1 196.8zM1232.3 217.2L1245.1 195.1L1219.5 195.1zM1253.7 215.5L1266.5 193.3L1240.9 193.3z" fill="#ff0000"/>
<path d="M183.7 546.6L205.1 546.6L226.5 546.6L247.9 546.7L269.3 546.8L290.7 546.9L312.1 547L333.5 547.2L354.9 546.7L376.3 544.8L397.7 544.9L419.1 544.8L440.5 542.1L461.9 534L483.3 519.7L504.7 503.3L526.1 485.5L547.5 466.9L568.9 447.3L590.3 427.5L611.7 407.8L633.1 387.5L654.5 367.9L675.9 348.2L697.3 329L718.7 309.7L740.1 289L761.5 270L782.9 250.7L804.3 232L825.7 213.2L847.1 195.4L868.5 180.4L889.9 165.8L911.3 152.5L932.7 140.8L954.1 132.2L975.5 124L996.9 117.6L1018.3 111.8L1039.7 107.5L1061.1 103.1L1082.5 99.1L1103.9 96.6L1125.3 94.2L1146.7 92L1168.1 89.4L1189.5 86.4L1210.9 83.6L1232.3 81.1L1253.7 78.6" fill="none" stroke="#ff0000" stroke-width="1.45"/>
<path d="M183.7 559.1L194.5 540.4L172.9 540.4zM205.1 559.1L215.9 540.4L194.3 540.4zM226.5 559.1L237.3 540.4L215.7 540.4zM247.9 559.2L258.7 540.5L237.1 540.5zM269.3 559.3L280.1 540.5L258.5 540.5zM290.7 559.4L301.5 540.7L279.9 540.7zM312.1 559.5L322.9 540.8L301.3 540.8zM333.5 559.7L344.3 541L322.7 541zM354.9 559.2L365.7 540.5L344.1 540.5zM376.3 557.3L387.1 538.6L365.5 538.6zM397.7 557.4L408.5 538.7L386.9 538.7zM419.1 557.3L429.9 538.6L408.3 538.6zM440.5 554.6L451.3 535.9L429.7 535.9zM461.9 546.5L472.7 527.8L451.1 527.8zM483.3 532.1L494.1 513.4L472.5 513.4zM504.7 515.8L515.5 497.1L493.9 497.1zM526.1 498L536.9 479.3L515.3 479.3zM547.5 479.4L558.3 460.6L536.7 460.6zM568.9 459.8L579.7 441.1L558.1 441.1zM590.3 440L601.1 421.2L579.5 421.2zM611.7 420.3L622.5 401.5L600.9 401.5zM633.1 399.9L643.9 381.2L622.3 381.2zM654.5 380.4L665.3 361.7L643.7 361.7zM675.9 360.6L686.7 341.9L665.1 341.9zM697.3 341.5L708.1 322.8L686.5 322.8zM718.7 322.2L729.5 303.5L707.9 303.5zM740.1 301.5L750.9 282.8L729.3 282.8zM761.5 282.5L772.3 263.8L750.7 263.8zM782.9 263.2L793.7 244.5L772.1 244.5zM804.3 244.5L815.1 225.8L793.5 225.8zM825.7 225.7L836.5 207L814.9 207zM847.1 207.9L857.9 189.2L836.3 189.2zM868.5 192.9L879.3 174.1L857.7 174.1zM889.9 178.3L900.7 159.5L879.1 159.5zM911.3 165L922.1 146.3L900.5 146.3zM932.7 153.3L943.5 134.6L921.9 134.6zM954.1 144.7L964.9 126L943.3 126zM975.5 136.5L986.3 117.7L964.7 117.7zM996.9 130L1007.7 111.3L986.1 111.3zM1018.3 124.3L1029.1 105.6L1007.5 105.6zM1039.7 120L1050.5 101.3L1028.9 101.3zM1061.1 115.6L1071.9 96.9L1050.3 96.9zM1082.5 111.6L1093.3 92.9L1071.7 92.9zM1103.9 109L1114.7 90.3L1093.1 90.3zM1125.3 106.7L1136.1 88L1114.5 88zM1146.7 104.5L1157.5 85.8L1135.9 85.8zM1168.1 101.9L1178.9 83.2L1157.3 83.2zM1189.5 98.8L1200.3 80.1L1178.7 80.1zM1210.9 96.1L1221.7 77.4L1200.1 77.4zM1232.3 93.6L1243.1 74.9L1221.5 74.9zM1253.7 91.1L1264.5 72.4L1242.9 72.4z" fill="#fff" stroke="#ff0000" stroke-width="2.3"/>
<path d="M290.7 602L312.1 560.7L333.5 537.3L354.9 524.6L376.3 513L397.7 502.1L419.1 491.4L440.5 481.1L461.9 470.6L483.3 460L504.7 450L526.1 440.1L547.5 430.3L568.9 420.3L590.3 410.3L611.7 401.3L633.1 392.1L654.5 382.8L675.9 373.3L697.3 364.4L718.7 356L740.1 348L761.5 338.2L782.9 327.3L804.3 316.2L825.7 304.6L847.1 293.6L868.5 283.1L889.9 273.4L911.3 263.8L932.7 255.5L954.1 247.7L975.5 240.4L996.9 234.4L1018.3 229.1L1039.7 224.6L1061.1 220.9L1082.5 217.7L1103.9 214.9L1125.3 212.5L1146.7 210.5L1168.1 208.2L1189.5 206L1210.9 204.2L1232.3 202.4L1253.7 200.7" fill="none" stroke="#800000" stroke-width="1.45"/>
<path d="M290.7 588.9L303.8 602L290.7 615.1L277.6 602zM312.1 547.6L325.2 560.7L312.1 573.8L299 560.7zM333.5 524.2L346.6 537.3L333.5 550.4L320.4 537.3zM354.9 511.5L368 524.6L354.9 537.7L341.8 524.6zM376.3 499.9L389.4 513L376.3 526.1L363.2 513zM397.7 489L410.8 502.1L397.7 515.2L384.6 502.1zM419.1 478.3L432.2 491.4L419.1 504.5L406 491.4zM440.5 468L453.6 481.1L440.5 494.2L427.4 481.1zM461.9 457.5L475 470.6L461.9 483.7L448.8 470.6zM483.3 446.9L496.4 460L483.3 473.1L470.2 460zM504.7 436.9L517.8 450L504.7 463.1L491.6 450zM526.1 427L539.2 440.1L526.1 453.2L513 440.1zM547.5 417.2L560.6 430.3L547.5 443.4L534.4 430.3zM568.9 407.2L582 420.3L568.9 433.4L555.8 420.3zM590.3 397.2L603.4 410.3L590.3 423.4L577.2 410.3zM611.7 388.2L624.8 401.3L611.7 414.4L598.6 401.3zM633.1 379L646.2 392.1L633.1 405.2L620 392.1zM654.5 369.7L667.6 382.8L654.5 395.9L641.4 382.8zM675.9 360.2L689 373.3L675.9 386.4L662.8 373.3zM697.3 351.3L710.4 364.4L697.3 377.5L684.2 364.4zM718.7 342.9L731.8 356L718.7 369.1L705.6 356zM740.1 334.9L753.2 348L740.1 361.1L727 348zM761.5 325.1L774.6 338.2L761.5 351.3L748.4 338.2zM782.9 314.2L796 327.3L782.9 340.4L769.8 327.3zM804.3 303.1L817.4 316.2L804.3 329.3L791.2 316.2zM825.7 291.5L838.8 304.6L825.7 317.7L812.6 304.6zM847.1 280.5L860.2 293.6L847.1 306.7L834 293.6zM868.5 270L881.6 283.1L868.5 296.2L855.4 283.1zM889.9 260.3L903 273.4L889.9 286.5L876.8 273.4zM911.3 250.7L924.4 263.8L911.3 276.9L898.2 263.8zM932.7 242.4L945.8 255.5L932.7 268.6L919.6 255.5zM954.1 234.6L967.2 247.7L954.1 260.8L941 247.7zM975.5 227.3L988.6 240.4L975.5 253.5L962.4 240.4zM996.9 221.3L1010 234.4L996.9 247.5L983.8 234.4zM1018.3 216L1031.4 229.1L1018.3 242.2L1005.2 229.1zM1039.7 211.5L1052.8 224.6L1039.7 237.7L1026.6 224.6zM1061.1 207.8L1074.2 220.9L1061.1 234L1048 220.9zM1082.5 204.6L1095.6 217.7L1082.5 230.8L1069.4 217.7zM1103.9 201.8L1117 214.9L1103.9 228L1090.8 214.9zM1125.3 199.4L1138.4 212.5L1125.3 225.6L1112.2 212.5zM1146.7 197.4L1159.8 210.5L1146.7 223.6L1133.6 210.5zM1168.1 195.1L1181.2 208.2L1168.1 221.3L1155 208.2zM1189.5 192.9L1202.6 206L1189.5 219.1L1176.4 206zM1210.9 191.1L1224 204.2L1210.9 217.3L1197.8 204.2zM1232.3 189.3L1245.4 202.4L1232.3 215.5L1219.2 202.4zM1253.7 187.6L1266.8 200.7L1253.7 213.8L1240.6 200.7z" fill="#800000"/>
<path d="M183.7 545.4L205.1 545.4L226.5 545.4L247.9 545.5L269.3 545.5L290.7 545.6L312.1 545.7L333.5 545.8L354.9 545.3L376.3 543.3L397.7 543.6L419.1 541.8L440.5 539L461.9 533.3L483.3 519.2L504.7 502.8L526.1 485L547.5 466.3L568.9 446.7L590.3 426.8L611.7 407.1L633.1 386.7L654.5 367.2L675.9 347.4L697.3 328.2L718.7 308.9L740.1 288.2L761.5 269.2L782.9 249.8L804.3 231.1L825.7 212.2L847.1 194.6L868.5 180L889.9 165.9L911.3 153.2L932.7 141.8L954.1 133.3L975.5 125.2L996.9 118.8L1018.3 113.1L1039.7 108.7L1061.1 104.2L1082.5 100.1L1103.9 97.3L1125.3 94.8L1146.7 92.4L1168.1 89.5L1189.5 86.3L1210.9 83.3L1232.3 80.6L1253.7 77.8" fill="none" stroke="#800000" stroke-width="1.45"/>
<path d="M183.7 533.9L195.2 545.4L183.7 556.9L172.2 545.4zM205.1 533.9L216.6 545.4L205.1 556.9L193.6 545.4zM226.5 534L238 545.4L226.5 556.9L215 545.4zM247.9 534L259.4 545.5L247.9 556.9L236.4 545.5zM269.3 534L280.8 545.5L269.3 557L257.8 545.5zM290.7 534.1L302.2 545.6L290.7 557.1L279.2 545.6zM312.1 534.2L323.6 545.7L312.1 557.2L300.6 545.7zM333.5 534.4L345 545.8L333.5 557.3L322 545.8zM354.9 533.8L366.4 545.3L354.9 556.8L343.4 545.3zM376.3 531.8L387.8 543.3L376.3 554.8L364.8 543.3zM397.7 532.1L409.2 543.6L397.7 555.1L386.2 543.6zM419.1 530.3L430.6 541.8L419.1 553.3L407.6 541.8zM440.5 527.5L452 539L440.5 550.5L429 539zM461.9 521.8L473.4 533.3L461.9 544.8L450.4 533.3zM483.3 507.7L494.8 519.2L483.3 530.6L471.8 519.2zM504.7 491.3L516.2 502.8L504.7 514.3L493.2 502.8zM526.1 473.5L537.6 485L526.1 496.4L514.6 485zM547.5 454.8L559 466.3L547.5 477.8L536 466.3zM568.9 435.2L580.4 446.7L568.9 458.2L557.4 446.7zM590.3 415.3L601.8 426.8L590.3 438.3L578.8 426.8zM611.7 395.6L623.2 407.1L611.7 418.5L600.2 407.1zM633.1 375.2L644.6 386.7L633.1 398.2L621.6 386.7zM654.5 355.7L666 367.2L654.5 378.6L643 367.2zM675.9 335.9L687.4 347.4L675.9 358.9L664.4 347.4zM697.3 316.7L708.8 328.2L697.3 339.7L685.8 328.2zM718.7 297.4L730.2 308.9L718.7 320.4L707.2 308.9zM740.1 276.7L751.6 288.2L740.1 299.7L728.6 288.2zM761.5 257.7L773 269.2L761.5 280.6L750 269.2zM782.9 238.3L794.4 249.8L782.9 261.3L771.4 249.8zM804.3 219.6L815.8 231.1L804.3 242.5L792.8 231.1zM825.7 200.7L837.2 212.2L825.7 223.7L814.2 212.2zM847.1 183.1L858.6 194.6L847.1 206.1L835.6 194.6zM868.5 168.5L880 180L868.5 191.5L857 180zM889.9 154.5L901.4 165.9L889.9 177.4L878.4 165.9zM911.3 141.7L922.8 153.2L911.3 164.7L899.8 153.2zM932.7 130.3L944.2 141.8L932.7 153.3L921.2 141.8zM954.1 121.9L965.6 133.3L954.1 144.8L942.6 133.3zM975.5 113.7L987 125.2L975.5 136.7L964 125.2zM996.9 107.4L1008.4 118.8L996.9 130.3L985.4 118.8zM1018.3 101.6L1029.8 113.1L1018.3 124.6L1006.8 113.1zM1039.7 97.2L1051.2 108.7L1039.7 120.2L1028.2 108.7zM1061.1 92.7L1072.6 104.2L1061.1 115.7L1049.6 104.2zM1082.5 88.6L1094 100.1L1082.5 111.5L1071 100.1zM1103.9 85.8L1115.4 97.3L1103.9 108.8L1092.4 97.3zM1125.3 83.3L1136.8 94.8L1125.3 106.2L1113.8 94.8zM1146.7 80.9L1158.2 92.4L1146.7 103.9L1135.2 92.4zM1168.1 78.1L1179.6 89.5L1168.1 101L1156.6 89.5zM1189.5 74.8L1201 86.3L1189.5 97.8L1178 86.3zM1210.9 71.9L1222.4 83.3L1210.9 94.8L1199.4 83.3zM1232.3 69.1L1243.8 80.6L1232.3 92L1220.8 80.6zM1253.7 66.3L1265.2 77.8L1253.7 89.3L1242.2 77.8z" fill="#fff" stroke="#800000" stroke-width="2.3"/>
<path d="M290.7 594.5L312.1 559.4L333.5 539.5L354.9 526.8L376.3 515.2L397.7 504.3L419.1 493.6L440.5 483.3L461.9 472.8L483.3 462.2L504.7 452.2L526.1 442.3L547.5 432.5L568.9 422.5L590.3 412.5L611.7 403.5L633.1 394.1L654.5 384.3L675.9 374.3L697.3 365L718.7 356L740.1 347L761.5 336.7L782.9 325.9L804.3 315L825.7 303.6L847.1 292.8L868.5 282.5L889.9 273L911.3 263.6L932.7 255.6L954.1 248.2L975.5 241.4L996.9 235.9L1018.3 230.9L1039.7 226.6L1061.1 223L1082.5 219.8L1103.9 217.1L1125.3 214.7L1146.7 212.8L1168.1 210.4L1189.5 208.3L1210.9 206.4L1232.3 204.7L1253.7 202.9" fill="none" stroke="#808000" stroke-width="1.45"/>
<path d="M275.9 594.5L298.1 581.7L298.1 607.3zM297.3 559.4L319.5 546.6L319.5 572.2zM318.7 539.5L340.9 526.7L340.9 552.3zM340.1 526.8L362.3 514L362.3 539.6zM361.5 515.2L383.7 502.4L383.7 528zM382.9 504.3L405.1 491.5L405.1 517.1zM404.3 493.6L426.5 480.8L426.5 506.4zM425.7 483.3L447.9 470.5L447.9 496.1zM447.1 472.8L469.3 460L469.3 485.6zM468.5 462.2L490.7 449.4L490.7 475zM489.9 452.2L512.1 439.4L512.1 465zM511.3 442.3L533.5 429.5L533.5 455.1zM532.7 432.5L554.9 419.7L554.9 445.3zM554.1 422.5L576.3 409.7L576.3 435.3zM575.5 412.5L597.7 399.7L597.7 425.3zM596.9 403.5L619.1 390.7L619.1 416.3zM618.3 394.1L640.5 381.3L640.5 406.9zM639.7 384.3L661.9 371.5L661.9 397.1zM661.1 374.3L683.3 361.5L683.3 387.1zM682.5 365L704.7 352.2L704.7 377.8zM703.9 356L726.1 343.2L726.1 368.8zM725.3 347L747.5 334.2L747.5 359.8zM746.7 336.7L768.9 323.9L768.9 349.5zM768.1 325.9L790.3 313.1L790.3 338.7zM789.5 315L811.7 302.2L811.7 327.8zM810.9 303.6L833.1 290.8L833.1 316.4zM832.3 292.8L854.5 280L854.5 305.6zM853.7 282.5L875.9 269.7L875.9 295.3zM875.1 273L897.3 260.2L897.3 285.8zM896.5 263.6L918.7 250.8L918.7 276.4zM917.9 255.6L940.1 242.8L940.1 268.4zM939.3 248.2L961.5 235.4L961.5 261zM960.7 241.4L982.9 228.6L982.9 254.2zM982.1 235.9L1004.3 223.1L1004.3 248.7zM1003.5 230.9L1025.7 218.1L1025.7 243.7zM1024.9 226.6L1047.1 213.8L1047.1 239.4zM1046.3 223L1068.5 210.2L1068.5 235.8zM1067.7 219.8L1089.9 207L1089.9 232.6zM1089.1 217.1L1111.3 204.3L1111.3 229.9zM1110.5 214.7L1132.7 201.9L1132.7 227.5zM1131.9 212.8L1154.1 200L1154.1 225.6zM1153.3 210.4L1175.5 197.6L1175.5 223.2zM1174.7 208.3L1196.9 195.5L1196.9 221.1zM1196.1 206.4L1218.3 193.6L1218.3 219.2zM1217.5 204.7L1239.7 191.9L1239.7 217.5zM1238.9 202.9L1261.1 190.1L1261.1 215.7z" fill="#808000"/>
<path d="M183.7 556.6L205.1 556.6L226.5 556.6L247.9 556.7L269.3 556.8L290.7 556.9L312.1 557.1L333.5 557.3L354.9 556.8L376.3 554.9L397.7 552.6L419.1 549.9L440.5 546.4L461.9 543.7L483.3 533.3L504.7 520.8L526.1 504.3L547.5 484L568.9 463.4L590.3 442.6L611.7 422.1L633.1 401.2L654.5 381L675.9 360.7L697.3 341.1L718.7 321.5L740.1 300.3L761.5 280.7L782.9 260.3L804.3 241L825.7 221.6L847.1 202.9L868.5 187.3L889.9 172.9L911.3 159.1L932.7 147.2L954.1 138L975.5 129.1L996.9 122.4L1018.3 116.4L1039.7 111.8L1061.1 106.8L1082.5 102.4L1103.9 99.6L1125.3 97.1L1146.7 94.8L1168.1 92L1189.5 88.8L1210.9 86L1232.3 83.4L1253.7 80.9" fill="none" stroke="#808000" stroke-width="1.45"/>
<path d="M171.2 556.6L189.9 545.8L189.9 567.4zM192.6 556.6L211.3 545.8L211.3 567.4zM214 556.6L232.7 545.8L232.7 567.5zM235.4 556.7L254.1 545.9L254.1 567.5zM256.8 556.8L275.5 546L275.5 567.6zM278.2 556.9L296.9 546.1L296.9 567.7zM299.6 557.1L318.3 546.3L318.3 567.9zM321 557.3L339.7 546.5L339.7 568.1zM342.4 556.8L361.1 546L361.1 567.6zM363.8 554.9L382.5 544.1L382.5 565.7zM385.2 552.6L403.9 541.8L403.9 563.4zM406.6 549.9L425.3 539.1L425.3 560.7zM428 546.4L446.7 535.6L446.7 557.2zM449.4 543.7L468.1 532.9L468.1 554.5zM470.8 533.3L489.5 522.5L489.5 544.1zM492.2 520.8L510.9 510L510.9 531.6zM513.6 504.3L532.3 493.5L532.3 515.1zM535 484L553.7 473.2L553.7 494.8zM556.4 463.4L575.1 452.6L575.1 474.2zM577.8 442.6L596.5 431.8L596.5 453.4zM599.2 422.1L617.9 411.3L617.9 432.9zM620.6 401.2L639.3 390.3L639.3 412zM642 381L660.7 370.2L660.7 391.8zM663.4 360.7L682.1 349.9L682.1 371.5zM684.8 341.1L703.5 330.3L703.5 351.9zM706.2 321.5L724.9 310.6L724.9 332.3zM727.6 300.3L746.3 289.5L746.3 311.1zM749 280.7L767.7 269.9L767.7 291.5zM770.4 260.3L789.1 249.5L789.1 271.1zM791.8 241L810.5 230.2L810.5 251.8zM813.2 221.6L831.9 210.8L831.9 232.4zM834.6 202.9L853.3 192.1L853.3 213.7zM856 187.3L874.7 176.5L874.7 198.1zM877.4 172.9L896.1 162.1L896.1 183.7zM898.8 159.1L917.5 148.3L917.5 169.9zM920.2 147.2L938.9 136.4L938.9 158zM941.6 138L960.3 127.1L960.3 148.8zM963 129.1L981.7 118.3L981.7 139.9zM984.4 122.4L1003.1 111.6L1003.1 133.2zM1005.8 116.4L1024.5 105.6L1024.5 127.2zM1027.2 111.8L1045.9 101L1045.9 122.6zM1048.6 106.8L1067.3 96L1067.3 117.7zM1070 102.4L1088.7 91.6L1088.7 113.2zM1091.4 99.6L1110.1 88.8L1110.1 110.4zM1112.8 97.1L1131.5 86.3L1131.5 107.9zM1134.2 94.8L1152.9 83.9L1152.9 105.6zM1155.6 92L1174.3 81.2L1174.3 102.8zM1177 88.8L1195.7 78L1195.7 99.6zM1198.4 86L1217.1 75.2L1217.1 96.8zM1219.8 83.4L1238.5 72.6L1238.5 94.2zM1241.2 80.9L1259.9 70.1L1259.9 91.7z" fill="#fff" stroke="#808000" stroke-width="2.3"/>
<path d="M290.7 592.5L312.1 557.1L333.5 537L354.9 524.3L376.3 512.7L397.7 501.8L419.1 491.1L440.5 480.8L461.9 470.3L483.3 459.7L504.7 449.7L526.1 439.8L547.5 430L568.9 420L590.3 410L611.7 401L633.1 391.8L654.5 382.2L675.9 372.3L697.3 362.7L718.7 353.5L740.1 344.7L761.5 334.6L782.9 323.9L804.3 313.1L825.7 301.8L847.1 291.1L868.5 280.9L889.9 271.6L911.3 262.4L932.7 254.5L954.1 247.2L975.5 240.6L996.9 235.2L1018.3 230.4L1039.7 226.1L1061.1 222.5L1082.5 219.4L1103.9 216.7L1125.3 214.4L1146.7 212.5L1168.1 210.2L1189.5 208L1210.9 206.2L1232.3 204.4L1253.7 202.6" fill="none" stroke="#00ffff" stroke-width="1.45"/>
<path d="M305.5 592.5L283.3 579.7L283.3 605.3zM326.9 557.1L304.7 544.3L304.7 569.9zM348.3 537L326.1 524.2L326.1 549.8zM369.7 524.3L347.5 511.5L347.5 537.1zM391.1 512.7L368.9 499.9L368.9 525.5zM412.5 501.8L390.3 489L390.3 514.6zM433.9 491.1L411.7 478.3L411.7 503.9zM455.3 480.8L433.1 468L433.1 493.6zM476.7 470.3L454.5 457.5L454.5 483.1zM498.1 459.7L475.9 446.9L475.9 472.5zM519.5 449.7L497.3 436.9L497.3 462.5zM540.9 439.8L518.7 427L518.7 452.6zM562.3 430L540.1 417.2L540.1 442.8zM583.7 420L561.5 407.2L561.5 432.8zM605.1 410L582.9 397.2L582.9 422.8zM626.5 401L604.3 388.2L604.3 413.8zM647.9 391.8L625.7 379L625.7 404.6zM669.3 382.2L647.1 369.4L647.1 395zM690.7 372.3L668.5 359.5L668.5 385.1zM712.1 362.7L689.9 349.9L689.9 375.5zM733.5 353.5L711.3 340.7L711.3 366.3zM754.9 344.7L732.7 331.9L732.7 357.5zM776.3 334.6L754.1 321.8L754.1 347.4zM797.7 323.9L775.5 311.1L775.5 336.7zM819.1 313.1L796.9 300.3L796.9 325.9zM840.5 301.8L818.3 289L818.3 314.6zM861.9 291.1L839.7 278.3L839.7 303.9zM883.3 280.9L861.1 268.1L861.1 293.7zM904.7 271.6L882.5 258.8L882.5 284.4zM926.1 262.4L903.9 249.6L903.9 275.2zM947.5 254.5L925.3 241.7L925.3 267.3zM968.9 247.2L946.7 234.4L946.7 260zM990.3 240.6L968.1 227.8L968.1 253.4zM1011.7 235.2L989.5 222.4L989.5 248zM1033.1 230.4L1010.9 217.6L1010.9 243.2zM1054.5 226.1L1032.3 213.3L1032.3 238.9zM1075.9 222.5L1053.7 209.7L1053.7 235.3zM1097.3 219.4L1075.1 206.6L1075.1 232.2zM1118.7 216.7L1096.5 203.9L1096.5 229.5zM1140.1 214.4L1117.9 201.6L1117.9 227.2zM1161.5 212.5L1139.3 199.7L1139.3 225.3zM1182.9 210.2L1160.7 197.4L1160.7 223zM1204.3 208L1182.1 195.2L1182.1 220.8zM1225.7 206.2L1203.5 193.4L1203.5 219zM1247.1 204.4L1224.9 191.6L1224.9 217.2zM1268.5 202.6L1246.3 189.8L1246.3 215.4z" fill="#00ffff"/>
<path d="M183.7 554.6L205.1 554.6L226.5 554.7L247.9 554.9L269.3 555.2L290.7 555.5L312.1 555.9L333.5 556.3L354.9 556.1L376.3 554.5L397.7 552.6L419.1 550.2L440.5 546.5L461.9 538L483.3 524.9L504.7 509.3L526.1 491.5L547.5 472.8L568.9 453.3L590.3 433.4L611.7 413.7L633.1 393.4L654.5 373.8L675.9 354.1L697.3 334.9L718.7 315.7L740.1 295L761.5 276L782.9 256.7L804.3 237.5L825.7 217.6L847.1 198.8L868.5 183.3L889.9 168.6L911.3 155.3L932.7 143.4L954.1 134.5L975.5 126L996.9 119.4L1018.3 113.5L1039.7 109.1L1061.1 104.7L1082.5 100.7L1103.9 98.1L1125.3 95.7L1146.7 93.6L1168.1 90.9L1189.5 87.9L1210.9 85.1L1232.3 82.6L1253.7 80.1" fill="none" stroke="#00ffff" stroke-width="1.45"/>
<path d="M196.2 554.6L177.5 543.8L177.5 565.4zM217.6 554.6L198.9 543.8L198.9 565.4zM239 554.7L220.3 543.9L220.3 565.5zM260.4 554.9L241.7 544.1L241.7 565.7zM281.8 555.2L263.1 544.4L263.1 566zM303.2 555.5L284.5 544.7L284.5 566.3zM324.6 555.9L305.9 545.1L305.9 566.7zM346 556.3L327.3 545.5L327.3 567.1zM367.4 556.1L348.7 545.3L348.7 566.9zM388.8 554.5L370.1 543.7L370.1 565.3zM410.2 552.6L391.5 541.8L391.5 563.4zM431.6 550.2L412.9 539.4L412.9 561zM453 546.5L434.3 535.7L434.3 557.3zM474.4 538L455.7 527.2L455.7 548.8zM495.8 524.9L477.1 514.1L477.1 535.7zM517.2 509.3L498.5 498.5L498.5 520.1zM538.6 491.5L519.9 480.7L519.9 502.3zM560 472.8L541.3 462L541.3 483.6zM581.4 453.3L562.7 442.5L562.7 464.1zM602.8 433.4L584.1 422.6L584.1 444.2zM624.2 413.7L605.5 402.9L605.5 424.5zM645.6 393.4L626.9 382.6L626.9 404.2zM667 373.8L648.3 363L648.3 384.7zM688.4 354.1L669.7 343.3L669.7 364.9zM709.8 334.9L691.1 324.1L691.1 345.7zM731.2 315.7L712.5 304.9L712.5 326.5zM752.6 295L733.9 284.2L733.9 305.8zM774 276L755.3 265.2L755.3 286.8zM795.4 256.7L776.7 245.9L776.7 267.5zM816.8 237.5L798.1 226.7L798.1 248.3zM838.2 217.6L819.5 206.8L819.5 228.4zM859.6 198.8L840.9 188L840.9 209.6zM881 183.3L862.3 172.5L862.3 194.1zM902.4 168.6L883.7 157.8L883.7 179.4zM923.8 155.3L905.1 144.5L905.1 166.1zM945.2 143.4L926.5 132.6L926.5 154.2zM966.6 134.5L947.9 123.7L947.9 145.3zM988 126L969.3 115.2L969.3 136.8zM1009.4 119.4L990.7 108.6L990.7 130.2zM1030.8 113.5L1012.1 102.7L1012.1 124.3zM1052.2 109.1L1033.5 98.3L1033.5 119.9zM1073.6 104.7L1054.9 93.9L1054.9 115.5zM1095 100.7L1076.3 89.9L1076.3 111.5zM1116.4 98.1L1097.7 87.3L1097.7 108.9zM1137.8 95.7L1119.1 84.9L1119.1 106.5zM1159.2 93.6L1140.5 82.7L1140.5 104.4zM1180.6 90.9L1161.9 80.1L1161.9 101.7zM1202 87.9L1183.3 77L1183.3 98.7zM1223.4 85.1L1204.7 74.3L1204.7 95.9zM1244.8 82.6L1226.1 71.8L1226.1 93.4zM1266.2 80.1L1247.5 69.3L1247.5 90.9z" fill="#fff" stroke="#00ffff" stroke-width="2.3"/>
<path d="M290.7 594.5L312.1 562L333.5 543.5L354.9 530.8L376.3 519.2L397.7 508.3L419.1 497.6L440.5 487.3L461.9 476.8L483.3 466.2L504.7 456.2L526.1 446.3L547.5 436.5L568.9 426.5L590.3 416.5L611.7 407.5L633.1 397.8L654.5 387.2L675.9 376.3L697.3 365.8L718.7 356L740.1 347L761.5 336.7L782.9 325.9L804.3 315L825.7 303.6L847.1 292.8L868.5 282.5L889.9 273L911.3 263.6L932.7 255.5L954.1 248L975.5 241.1L996.9 235.5L1018.3 230.5L1039.7 226.1L1061.1 222.4L1082.5 219.2L1103.9 216.4L1125.3 214L1146.7 212L1168.1 209.6L1189.5 207.4L1210.9 205.5L1232.3 203.7L1253.7 201.9" fill="none" stroke="#808080" stroke-width="1.45"/>
<path d="M290.7 582.7L300.9 588.6L300.9 600.4L290.7 606.3L280.5 600.4L280.5 588.6zM312.1 550.2L322.3 556.1L322.3 567.9L312.1 573.8L301.9 567.9L301.9 556.1zM333.5 531.7L343.7 537.6L343.7 549.4L333.5 555.3L323.3 549.4L323.3 537.6zM354.9 519L365.1 524.9L365.1 536.7L354.9 542.6L344.7 536.7L344.7 524.9zM376.3 507.4L386.5 513.3L386.5 525.1L376.3 531L366.1 525.1L366.1 513.3zM397.7 496.5L407.9 502.4L407.9 514.2L397.7 520.1L387.5 514.2L387.5 502.4zM419.1 485.8L429.3 491.7L429.3 503.5L419.1 509.4L408.9 503.5L408.9 491.7zM440.5 475.5L450.7 481.4L450.7 493.2L440.5 499.1L430.3 493.2L430.3 481.4zM461.9 465L472.1 470.9L472.1 482.7L461.9 488.6L451.7 482.7L451.7 470.9zM483.3 454.4L493.5 460.3L493.5 472.1L483.3 478L473.1 472.1L473.1 460.3zM504.7 444.4L514.9 450.3L514.9 462.1L504.7 468L494.5 462.1L494.5 450.3zM526.1 434.5L536.3 440.4L536.3 452.2L526.1 458.1L515.9 452.2L515.9 440.4zM547.5 424.7L557.7 430.6L557.7 442.4L547.5 448.3L537.3 442.4L537.3 430.6zM568.9 414.7L579.1 420.6L579.1 432.4L568.9 438.3L558.7 432.4L558.7 420.6zM590.3 404.7L600.5 410.6L600.5 422.4L590.3 428.3L580.1 422.4L580.1 410.6zM611.7 395.7L621.9 401.6L621.9 413.4L611.7 419.3L601.5 413.4L601.5 401.6zM633.1 386L643.3 391.9L643.3 403.7L633.1 409.6L622.9 403.7L622.9 391.9zM654.5 375.4L664.7 381.3L664.7 393.1L654.5 399L644.3 393.1L644.3 381.3zM675.9 364.5L686.1 370.4L686.1 382.2L675.9 388.1L665.7 382.2L665.7 370.4zM697.3 354L707.5 359.9L707.5 371.7L697.3 377.6L687.1 371.7L687.1 359.9zM718.7 344.2L728.9 350.1L728.9 361.9L718.7 367.8L708.5 361.9L708.5 350.1zM740.1 335.2L750.3 341.1L750.3 352.9L740.1 358.8L729.9 352.9L729.9 341.1zM761.5 324.9L771.7 330.8L771.7 342.6L761.5 348.5L751.3 342.6L751.3 330.8zM782.9 314.1L793.1 320L793.1 331.8L782.9 337.7L772.7 331.8L772.7 320zM804.3 303.2L814.5 309.1L814.5 320.9L804.3 326.8L794.1 320.9L794.1 309.1zM825.7 291.8L835.9 297.7L835.9 309.5L825.7 315.4L815.5 309.5L815.5 297.7zM847.1 281L857.3 286.9L857.3 298.7L847.1 304.6L836.9 298.7L836.9 286.9zM868.5 270.7L878.7 276.6L878.7 288.4L868.5 294.3L858.3 288.4L858.3 276.6zM889.9 261.2L900.1 267.1L900.1 278.9L889.9 284.8L879.7 278.9L879.7 267.1zM911.3 251.8L921.5 257.7L921.5 269.5L911.3 275.4L901.1 269.5L901.1 257.7zM932.7 243.7L942.9 249.6L942.9 261.4L932.7 267.3L922.5 261.4L922.5 249.6zM954.1 236.2L964.3 242.1L964.3 253.9L954.1 259.8L943.9 253.9L943.9 242.1zM975.5 229.3L985.7 235.2L985.7 247L975.5 252.9L965.3 247L965.3 235.2zM996.9 223.7L1007.1 229.6L1007.1 241.4L996.9 247.3L986.7 241.4L986.7 229.6zM1018.3 218.7L1028.5 224.6L1028.5 236.4L1018.3 242.3L1008.1 236.4L1008.1 224.6zM1039.7 214.3L1049.9 220.2L1049.9 232L1039.7 237.9L1029.5 232L1029.5 220.2zM1061.1 210.6L1071.3 216.5L1071.3 228.3L1061.1 234.2L1050.9 228.3L1050.9 216.5zM1082.5 207.4L1092.7 213.3L1092.7 225.1L1082.5 231L1072.3 225.1L1072.3 213.3zM1103.9 204.6L1114.1 210.5L1114.1 222.3L1103.9 228.2L1093.7 222.3L1093.7 210.5zM1125.3 202.2L1135.5 208.1L1135.5 219.9L1125.3 225.8L1115.1 219.9L1115.1 208.1zM1146.7 200.2L1156.9 206.1L1156.9 217.9L1146.7 223.8L1136.5 217.9L1136.5 206.1zM1168.1 197.8L1178.3 203.7L1178.3 215.5L1168.1 221.4L1157.9 215.5L1157.9 203.7zM1189.5 195.6L1199.7 201.5L1199.7 213.3L1189.5 219.2L1179.3 213.3L1179.3 201.5zM1210.9 193.7L1221.1 199.6L1221.1 211.4L1210.9 217.3L1200.7 211.4L1200.7 199.6zM1232.3 191.9L1242.5 197.8L1242.5 209.6L1232.3 215.5L1222.1 209.6L1222.1 197.8zM1253.7 190.1L1263.9 196L1263.9 207.8L1253.7 213.7L1243.5 207.8L1243.5 196z" fill="#808080"/>
<path d="M183.7 564.6L205.1 564.6L226.5 564.6L247.9 564.6L269.3 564.5L290.7 564.5L312.1 564.5L333.5 564.4L354.9 563.6L376.3 561.3L397.7 558.6L419.1 553.8L440.5 546L461.9 534L483.3 518.3L504.7 501.3L526.1 483.3L547.5 464.5L568.9 444.8L590.3 424.8L611.7 405L633.1 384.6L654.5 365L675.9 345.2L697.3 326L718.7 306.7L740.1 286L761.5 267L782.9 247.7L804.3 229L825.7 210.2L847.1 192.7L868.5 178.3L889.9 164.5L911.3 152L932.7 140.8L954.1 132.5L975.5 124.5L996.9 118.3L1018.3 112.7L1039.7 108.5L1061.1 104.2L1082.5 100.3L1103.9 97.8L1125.3 95.5L1146.7 93.4L1168.1 90.8L1189.5 87.8L1210.9 85.1L1232.3 82.6L1253.7 80.1" fill="none" stroke="#808080" stroke-width="1.45"/>
<path d="M183.7 553.9L192.9 559.3L192.9 569.9L183.7 575.3L174.5 569.9L174.5 559.3zM205.1 553.9L214.3 559.3L214.3 569.9L205.1 575.3L195.9 569.9L195.9 559.3zM226.5 553.9L235.7 559.3L235.7 569.9L226.5 575.3L217.3 569.9L217.3 559.3zM247.9 553.9L257.1 559.2L257.1 569.9L247.9 575.2L238.7 569.9L238.7 559.2zM269.3 553.9L278.5 559.2L278.5 569.9L269.3 575.2L260.1 569.9L260.1 559.2zM290.7 553.8L299.9 559.2L299.9 569.8L290.7 575.2L281.5 569.8L281.5 559.2zM312.1 553.8L321.3 559.1L321.3 569.8L312.1 575.1L302.9 569.8L302.9 559.1zM333.5 553.7L342.7 559.1L342.7 569.7L333.5 575.1L324.3 569.7L324.3 559.1zM354.9 552.9L364.1 558.3L364.1 568.9L354.9 574.3L345.7 568.9L345.7 558.3zM376.3 550.6L385.5 556L385.5 566.6L376.3 572L367.1 566.6L367.1 556zM397.7 547.9L406.9 553.3L406.9 563.9L397.7 569.3L388.5 563.9L388.5 553.3zM419.1 543.1L428.3 548.5L428.3 559.1L419.1 564.5L409.9 559.1L409.9 548.5zM440.5 535.3L449.7 540.7L449.7 551.3L440.5 556.7L431.3 551.3L431.3 540.7zM461.9 523.3L471.1 528.7L471.1 539.3L461.9 544.7L452.7 539.3L452.7 528.7zM483.3 507.6L492.5 513L492.5 523.6L483.3 529L474.1 523.6L474.1 513zM504.7 490.6L513.9 496L513.9 506.6L504.7 512L495.5 506.6L495.5 496zM526.1 472.6L535.3 478L535.3 488.6L526.1 494L516.9 488.6L516.9 478zM547.5 453.8L556.7 459.2L556.7 469.8L547.5 475.2L538.3 469.8L538.3 459.2zM568.9 434.1L578.1 439.5L578.1 450.1L568.9 455.5L559.7 450.1L559.7 439.5zM590.3 414.1L599.5 419.5L599.5 430.1L590.3 435.5L581.1 430.1L581.1 419.5zM611.7 394.3L620.9 399.7L620.9 410.3L611.7 415.7L602.5 410.3L602.5 399.7zM633.1 373.9L642.3 379.3L642.3 389.9L633.1 395.3L623.9 389.9L623.9 379.3zM654.5 354.3L663.7 359.7L663.7 370.3L654.5 375.7L645.3 370.3L645.3 359.7zM675.9 334.5L685.1 339.9L685.1 350.5L675.9 355.9L666.7 350.5L666.7 339.9zM697.3 315.3L706.5 320.7L706.5 331.3L697.3 336.7L688.1 331.3L688.1 320.7zM718.7 296L727.9 301.4L727.9 312L718.7 317.4L709.5 312L709.5 301.4zM740.1 275.3L749.3 280.7L749.3 291.3L740.1 296.7L730.9 291.3L730.9 280.7zM761.5 256.3L770.7 261.7L770.7 272.3L761.5 277.7L752.3 272.3L752.3 261.7zM782.9 237L792.1 242.4L792.1 253L782.9 258.4L773.7 253L773.7 242.4zM804.3 218.3L813.5 223.7L813.5 234.3L804.3 239.7L795.1 234.3L795.1 223.7zM825.7 199.5L834.9 204.9L834.9 215.5L825.7 220.9L816.5 215.5L816.5 204.9zM847.1 182L856.3 187.4L856.3 198L847.1 203.4L837.9 198L837.9 187.4zM868.5 167.6L877.7 173L877.7 183.6L868.5 189L859.3 183.6L859.3 173zM889.9 153.8L899.1 159.2L899.1 169.8L889.9 175.2L880.7 169.8L880.7 159.2zM911.3 141.3L920.5 146.7L920.5 157.3L911.3 162.7L902.1 157.3L902.1 146.7zM932.7 130.1L941.9 135.5L941.9 146.1L932.7 151.5L923.5 146.1L923.5 135.5zM954.1 121.8L963.3 127.2L963.3 137.8L954.1 143.2L944.9 137.8L944.9 127.2zM975.5 113.8L984.7 119.2L984.7 129.8L975.5 135.2L966.3 129.8L966.3 119.2zM996.9 107.6L1006.1 113L1006.1 123.6L996.9 129L987.7 123.6L987.7 113zM1018.3 102L1027.5 107.4L1027.5 118L1018.3 123.4L1009.1 118L1009.1 107.4zM1039.7 97.8L1048.9 103.2L1048.9 113.8L1039.7 119.2L1030.5 113.8L1030.5 103.2zM1061.1 93.5L1070.3 98.9L1070.3 109.5L1061.1 114.9L1051.9 109.5L1051.9 98.9zM1082.5 89.6L1091.7 95L1091.7 105.6L1082.5 111L1073.3 105.6L1073.3 95zM1103.9 87.1L1113.1 92.5L1113.1 103.1L1103.9 108.5L1094.7 103.1L1094.7 92.5zM1125.3 84.8L1134.5 90.2L1134.5 100.8L1125.3 106.2L1116.1 100.8L1116.1 90.2zM1146.7 82.7L1155.9 88.1L1155.9 98.7L1146.7 104.1L1137.5 98.7L1137.5 88.1zM1168.1 80.1L1177.3 85.5L1177.3 96.1L1168.1 101.5L1158.9 96.1L1158.9 85.5zM1189.5 77.1L1198.7 82.5L1198.7 93.1L1189.5 98.5L1180.3 93.1L1180.3 82.5zM1210.9 74.4L1220.1 79.8L1220.1 90.4L1210.9 95.8L1201.7 90.4L1201.7 79.8zM1232.3 71.9L1241.5 77.3L1241.5 87.9L1232.3 93.3L1223.1 87.9L1223.1 77.3zM1253.7 69.4L1262.9 74.8L1262.9 85.4L1253.7 90.8L1244.5 85.4L1244.5 74.8z" fill="#fff" stroke="#808080" stroke-width="2.3"/>
</g>
<rect x="874" y="359.8" width="357.6" height="488.8" fill="#fff" stroke="#555" stroke-width="2.7"/>
<path d="M879 385.4H957.6" stroke="#000000" stroke-width="1.7" fill="none"/>
<path d="M908.8 375.9L927.8 375.9L927.8 394.9L908.8 394.9z" fill="#000000"/>
<text x="967" y="397" font-size="32" font-weight="bold"><tspan font-style="italic">I</tspan><tspan font-style="italic" font-size="30.5" dy="10.4">B</tspan><tspan dy="-10.4">-pre-irradiation</tspan></text>
<path d="M879 439.1H957.6" stroke="#000000" stroke-width="1.7" fill="none"/>
<path d="M909.8 430.6L926.8 430.6L926.8 447.5L909.8 447.5z" fill="#fff" stroke="#000000" stroke-width="1.7"/>
<text x="967" y="450.7" font-size="32" font-weight="bold"><tspan font-style="italic">I</tspan><tspan font-style="italic" font-size="30.5" dy="10.4">C</tspan><tspan dy="-10.4">-pre-irradiation</tspan></text>
<path d="M879 492.8H957.6" stroke="#0000ff" stroke-width="1.7" fill="none"/>
<path d="M907.9 492.8a10.4 10.4 0 1 0 20.8 0a10.4 10.4 0 1 0 -20.8 0z" fill="#0000ff"/>
<text x="967" y="504.4" font-size="32" font-weight="bold"><tspan font-style="italic">I</tspan><tspan font-style="italic" font-size="30.5" dy="10.4">B</tspan><tspan dy="-10.4">-46krad(Si)</tspan></text>
<path d="M879 546.5H957.6" stroke="#008000" stroke-width="1.7" fill="none"/>
<path d="M918.3 531.7L931.1 553.9L905.5 553.9z" fill="#008000"/>
<text x="967" y="558.1" font-size="32" font-weight="bold"><tspan font-style="italic">I</tspan><tspan font-style="italic" font-size="30.5" dy="10.4">B</tspan><tspan dy="-10.4">-130krad(Si)</tspan></text>
<path d="M879 600.2H957.6" stroke="#ff0000" stroke-width="1.7" fill="none"/>
<path d="M918.3 615L931.1 592.8L905.5 592.8z" fill="#ff0000"/>
<text x="967" y="611.8" font-size="32" font-weight="bold"><tspan font-style="italic">I</tspan><tspan font-style="italic" font-size="30.5" dy="10.4">B</tspan><tspan dy="-10.4">-230krad(Si)</tspan></text>
<path d="M879 653.9H957.6" stroke="#800000" stroke-width="1.7" fill="none"/>
<path d="M918.3 640.8L931.4 653.9L918.3 667L905.2 653.9z" fill="#800000"/>
<text x="967" y="665.5" font-size="32" font-weight="bold"><tspan font-style="italic">I</tspan><tspan font-style="italic" font-size="30.5" dy="10.4">B</tspan><tspan dy="-10.4">-330krad(Si)</tspan></text>
<path d="M879 707.6H957.6" stroke="#808000" stroke-width="1.7" fill="none"/>
<path d="M903.5 707.6L925.7 694.8L925.7 720.4z" fill="#808000"/>
<text x="967" y="719.2" font-size="32" font-weight="bold"><tspan font-style="italic">I</tspan><tspan font-style="italic" font-size="30.5" dy="10.4">B</tspan><tspan dy="-10.4">-440krad(Si)</tspan></text>
<path d="M879 761.3H957.6" stroke="#00ffff" stroke-width="1.7" fill="none"/>
<path d="M933.1 761.3L910.9 748.5L910.9 774.1z" fill="#00ffff"/>
<text x="967" y="772.9" font-size="32" font-weight="bold"><tspan font-style="italic">I</tspan><tspan font-style="italic" font-size="30.5" dy="10.4">B</tspan><tspan dy="-10.4">-520krad(Si)</tspan></text>
<path d="M879 815H957.6" stroke="#808080" stroke-width="1.7" fill="none"/>
<path d="M918.3 803.2L928.5 809.1L928.5 820.9L918.3 826.8L908.1 820.9L908.1 809.1z" fill="#808080"/>
<text x="967" y="826.6" font-size="32" font-weight="bold"><tspan font-style="italic">I</tspan><tspan font-style="italic" font-size="30.5" dy="10.4">B</tspan><tspan dy="-10.4">-600krad(Si)</tspan></text>
<text x="191.5" y="49.3" font-size="42" font-weight="bold" textLength="772" lengthAdjust="spacingAndGlyphs">BJT SPICE Model, Forward Gummel</text>
<text y="38.2" font-size="41.5" font-weight="bold"><tspan x="1086.5" font-style="italic">V</tspan><tspan x="1113" font-style="italic" font-size="38" dy="10.8">CE</tspan><tspan x="1167.5" dy="-10.8">=2V</tspan></text>
<text x="557" y="283.4" font-size="41" font-weight="bold" font-style="italic">I<tspan font-size="26.5" dy="10.6">C</tspan></text>
<ellipse cx="735" cy="294.5" rx="45.6" ry="30" fill="none" stroke="#222" stroke-width="1.7"/>
<path d="M697.5 276.4H612" stroke="#111" stroke-width="1.7" fill="none"/>
<path d="M599.5 276.4l22.5 -5.8v11.6z" fill="#000"/>
<text x="670" y="628.2" font-size="41" font-weight="bold" font-style="italic">I<tspan font-size="26" dy="11.5">B</tspan></text>
<path d="M663.4 594.4L622 551" stroke="#111" stroke-width="1.7" fill="none"/>
<path d="M613 541.7L632.5 553.5L623.9 561.7z" fill="#000"/>
<text x="411" y="993" font-size="43" font-weight="bold" textLength="616" lengthAdjust="spacingAndGlyphs">Base-Emitter Voltage, <tspan font-style="italic">V</tspan><tspan font-style="italic" font-size="24" dy="11.5">BE</tspan><tspan dy="-11.5"> (V)</tspan></text>
<text transform="translate(38 550.5) rotate(-90)" font-size="43" font-weight="bold" textLength="234" lengthAdjust="spacingAndGlyphs">Current (A)</text>
</g>
</svg>
</body></html>
